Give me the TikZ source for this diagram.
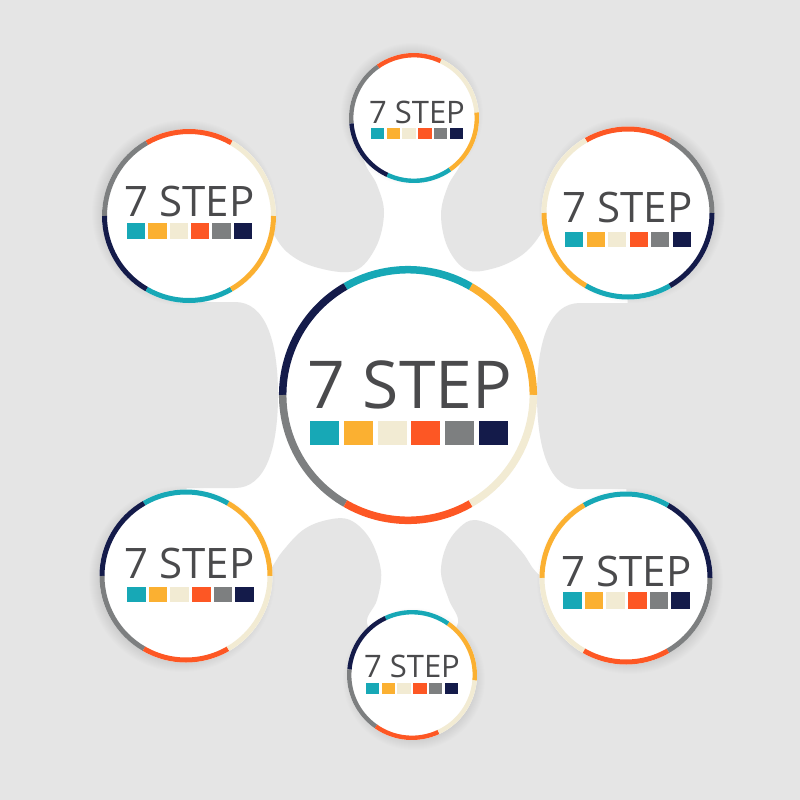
\documentclass[tikz,border=0pt]{standalone}
\usepackage{fontspec}
\setmainfont{Open Sans}
\usetikzlibrary{calc}
\definecolor{bgc}{HTML}{E5E5E5}
\definecolor{cteal}{HTML}{17A8B6}
\definecolor{cyellow}{HTML}{FBB031}
\definecolor{ccream}{HTML}{F2EBD3}
\definecolor{cred}{HTML}{FD5724}
\definecolor{cgray}{HTML}{7D7F80}
\definecolor{cnavy}{HTML}{141B4A}
\definecolor{ctext}{HTML}{4A4A4C}
\newcommand\sqrow[4]{%
  \pgfmathsetmacro\sqw{#3*0.146}%
  \pgfmathsetmacro\sqp{(#3-\sqw)/5}%
  \foreach \cc [count=\sqi from 0] in {cteal,cyellow,ccream,cred,cgray,cnavy}
    \fill[\cc] ({#1+\sqi*\sqp},#2) rectangle ++(\sqw,#4);
}
\newcommand\mkring[5]{%
  \foreach \cc [count=\sqi from 0] in {#5}
    \draw[\cc, line width=#3] ($(#1)+({-(#4+60*\sqi)}:#2)$)
      arc[start angle={-(#4+60*\sqi)}, end angle={-(#4+60*\sqi+60)}, radius=#2];
}
\newcommand\softshadow[4]{% centre, radius, dx, dy
  \foreach \k in {0,...,11}
    \fill[black, opacity=0.009] ($(#1)+(#3,#4)$) circle ({#2+\k});
}
\tikzset{
  steptxt/.style={text=ctext, anchor=base, inner sep=0pt},
  bigtxt/.style={steptxt, font=\fontsize{66}{66}\selectfont},
  midtxt/.style={steptxt, font=\fontsize{42}{42}\selectfont},
  smalltxt/.style={steptxt, font=\fontsize{31}{31}\selectfont},
  gapfill/.style={fill=bgc},
}
\begin{document}
\begin{tikzpicture}[x=1pt,y=-1pt]
\fill[bgc] (0,0) rectangle (800,800);
\useasboundingbox (0,0) rectangle (800,800);
\coordinate (C) at (408,395);
\coordinate (T) at (414,118);
\coordinate (B) at (412,675);
\coordinate (TL) at (189,216);
\coordinate (TR) at (628,213);
\coordinate (BL) at (186,576);
\coordinate (BR) at (626,578);
% white connecting body
\fill[white] (TL) -- (T) -- (TR) -- (BR) -- (B) -- (BL) -- cycle;
% gaps
\path[gapfill] (100,302) -- (235,302) .. controls (265,302) and (278,340) .. (278,395)
  .. controls (278,450) and (265,488) .. (235,488) -- (100,488) -- cycle;
\path[gapfill] (720,303) -- (580,303) .. controls (550,303) and (537,340) .. (537,395)
  .. controls (537,450) and (550,489) .. (580,489) -- (720,489) -- cycle;
\path[gapfill] plot[smooth, tension=0.6] coordinates {(366,128) (364,160) (377,185) (384,213) (376,247) (354,271) (315,267) (287,252) (270,228) (258,205)} -- (280,115) -- cycle;
\path[gapfill] plot[smooth, tension=0.6] coordinates {(462,128) (462,160) (448,186) (441,215) (448,248) (467,270) (495,268) (522,255) (540,235) (555,205)} -- (545,115) -- cycle;
\path[gapfill] plot[smooth, tension=0.6] coordinates {(255,585) (270,570) (282,552) (303,530) (327,520) (350,520) (370,539) (381,571) (377,600) (367,623) (385,650)} -- (370,720) -- (260,700) -- cycle;
\path[gapfill] plot[smooth, tension=0.6] coordinates {(440,648) (458,623) (449,600) (441,573) (446,547) (459,528) (475,520) (500,530) (522,552) (536,572) (555,585)} -- (560,700) -- (455,720) -- cycle;
% soft shadows
\softshadow{T}{60}{-2}{-4}
\softshadow{B}{60}{2}{4}
\softshadow{TL}{82}{-4}{-3}
\softshadow{TR}{82}{4}{-3}
\softshadow{BL}{82}{-4}{3}
\softshadow{BR}{82}{4}{3}
% disks
\foreach \p/\r in {C/129, T/65, B/65, TL/87, TR/86.5, BL/86.5, BR/86.5}
  \fill[white] (\p) circle (\r);
% rings
\mkring{C}{125.3}{7.5}{0}{cyellow,cteal,cnavy,cgray,cred,ccream}
\mkring{TL}{84.5}{5}{0}{ccream,cred,cgray,cnavy,cteal,cyellow}
\mkring{TR}{84}{5}{0}{cgray,cred,ccream,cyellow,cteal,cnavy}
\mkring{BL}{84}{5}{0}{cyellow,cteal,cnavy,cgray,cred,ccream}
\mkring{BR}{84}{5}{0}{cnavy,cteal,cyellow,ccream,cred,cgray}
\mkring{T}{62.8}{4.4}{5}{ccream,cred,cgray,cnavy,cteal,cyellow}
\mkring{B}{62.8}{4.4}{-5}{cyellow,cteal,cnavy,cgray,cred,ccream}
% texts
\node[bigtxt] (tc) at (410,408) {7 STEP};
\node[midtxt] (ttl) at (189.5,216) {7 STEP};
\node[midtxt] (ttr) at (627.5,222) {7 STEP};
\node[midtxt] (tbl) at (189.5,578) {7 STEP};
\node[midtxt] (tbr) at (626.5,586) {7 STEP};
\node[smalltxt] (tt) at (417,123) {7 STEP};
\node[smalltxt] (tb) at (412,677) {7 STEP};
% colour squares
\sqrow{310}{421}{198}{24}
\sqrow{127}{223}{125}{16}
\sqrow{565}{232}{126}{15}
\sqrow{127}{587}{127}{15}
\sqrow{563}{592}{127}{17}
\sqrow{371}{128}{92}{11}
\sqrow{366}{683}{92}{11}
\end{tikzpicture}
\end{document}
